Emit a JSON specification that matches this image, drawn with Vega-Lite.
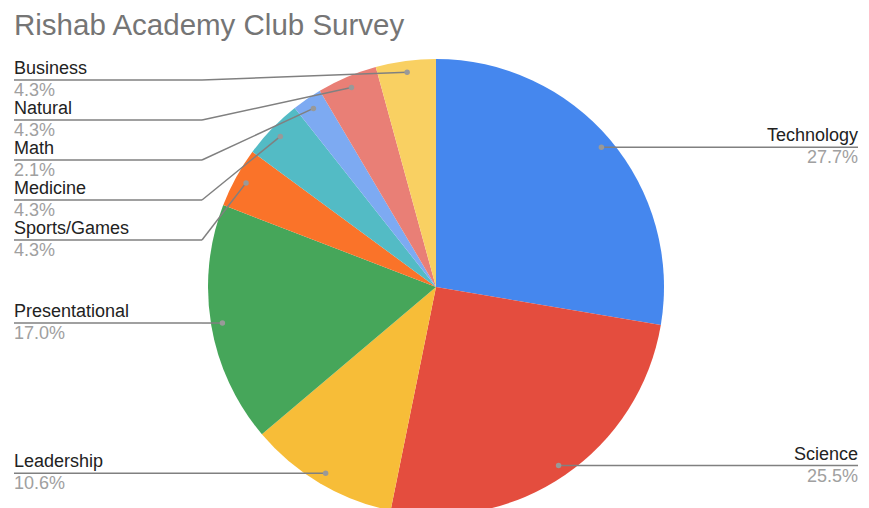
{
  "$schema": "https://vega.github.io/schema/vega-lite/v6.json",
  "autosize": "none",
  "width": 844,
  "height": 442,
  "padding": {"left": 14, "right": 11, "top": 66, "bottom": 0},
  "background": "white",
  "config": {
    "view": {"stroke": null},
    "font": "Liberation Sans",
    "title": {
      "font": "Liberation Sans",
      "fontSize": 29.5,
      "fontWeight": "normal",
      "color": "#757575",
      "anchor": "start",
      "frame": "group",
      "baseline": "alphabetic",
      "offset": 18
    }
  },
  "title": "Rishab Academy Club Survey",
  "params": [{"name": "r", "value": 228}],
  "data": {
    "values": [
      {"club": "Technology", "count": 13},
      {"club": "Science", "count": 12},
      {"club": "Leadership", "count": 5},
      {"club": "Presentational", "count": 8},
      {"club": "Sports/Games", "count": 2},
      {"club": "Medicine", "count": 2},
      {"club": "Math", "count": 1},
      {"club": "Natural", "count": 2},
      {"club": "Business", "count": 2}
    ]
  },
  "transform": [
    {"window": [{"op": "row_number", "as": "idx"}]},
    {"joinaggregate": [{"op": "sum", "field": "count", "as": "total"}]},
    {
      "window": [{"op": "sum", "field": "count", "as": "cum"}],
      "sort": [{"field": "idx", "order": "ascending"}],
      "frame": [null, 0]
    },
    {"calculate": "2 * PI * (datum.cum - datum.count / 2) / datum.total", "as": "a"},
    {"calculate": "datum.count / datum.total", "as": "pct"},
    {"calculate": "width / 2 + 0.95 * r * sin(datum.a)", "as": "dotX"},
    {"calculate": "height / 2 - 0.95 * r * cos(datum.a)", "as": "dotY"},
    {"calculate": "sin(datum.a) < 0 ? 'left' : 'right'", "as": "side"},
    {
      "window": [{"op": "row_number", "as": "rank"}],
      "groupby": ["side"],
      "sort": [{"field": "a", "order": "descending"}]
    },
    {"calculate": "datum.side == 'left' ? max(datum.dotY, 14 + 40 * (datum.rank - 1)) : datum.dotY", "as": "lineY"},
    {"calculate": "datum.side == 'left' ? 0 : width", "as": "lineX"},
    {"calculate": "datum.side == 'left' ? 188 : width - 188", "as": "kneeX"}
  ],
  "layer": [
    {
      "mark": {"type": "arc", "outerRadius": {"expr": "r"}},
      "encoding": {
        "theta": {"field": "count", "type": "quantitative", "stack": true},
        "order": {"field": "idx", "type": "quantitative"},
        "color": {
          "field": "club",
          "type": "nominal",
          "legend": null,
          "scale": {
            "domain": ["Technology", "Science", "Leadership", "Presentational", "Sports/Games", "Medicine", "Math", "Natural", "Business"],
            "range": ["#4587EE", "#E44D3E", "#F7BD38", "#46A65A", "#FA7329", "#53BBC5", "#7DAAF2", "#E97F76", "#F9D062"]
          }
        }
      }
    },
    {
      "mark": {"type": "rule", "color": "#808080", "strokeWidth": 1.5},
      "encoding": {
        "x": {"field": "lineX", "type": "quantitative", "scale": null, "axis": null},
        "x2": {"field": "kneeX"},
        "y": {"field": "lineY", "type": "quantitative", "scale": null, "axis": null}
      }
    },
    {
      "mark": {"type": "rule", "color": "#808080", "strokeWidth": 1.5},
      "encoding": {
        "x": {"field": "kneeX", "type": "quantitative", "scale": null, "axis": null},
        "y": {"field": "lineY", "type": "quantitative", "scale": null, "axis": null},
        "x2": {"field": "dotX"},
        "y2": {"field": "dotY"}
      }
    },
    {
      "mark": {"type": "circle", "color": "#999999", "opacity": 1, "size": 30},
      "encoding": {
        "x": {"field": "dotX", "type": "quantitative", "scale": null, "axis": null},
        "y": {"field": "dotY", "type": "quantitative", "scale": null, "axis": null}
      }
    },
    {
      "mark": {
        "type": "text",
        "fontSize": 18,
        "color": "#222222",
        "baseline": "alphabetic",
        "dy": -6,
        "align": {"expr": "datum.side == 'left' ? 'left' : 'right'"}
      },
      "encoding": {
        "x": {"field": "lineX", "type": "quantitative", "scale": null, "axis": null},
        "y": {"field": "lineY", "type": "quantitative", "scale": null, "axis": null},
        "text": {"field": "club", "type": "nominal"}
      }
    },
    {
      "mark": {
        "type": "text",
        "fontSize": 18,
        "color": "#a0a0a0",
        "baseline": "alphabetic",
        "dy": 16,
        "align": {"expr": "datum.side == 'left' ? 'left' : 'right'"}
      },
      "encoding": {
        "x": {"field": "lineX", "type": "quantitative", "scale": null, "axis": null},
        "y": {"field": "lineY", "type": "quantitative", "scale": null, "axis": null},
        "text": {"field": "pct", "type": "quantitative", "format": ".1%"}
      }
    }
  ]
}
